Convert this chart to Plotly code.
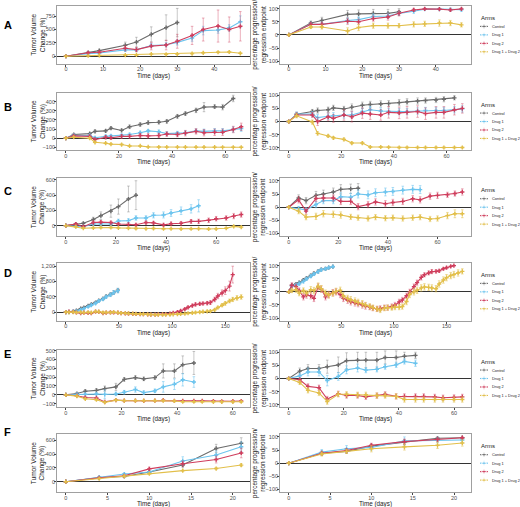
import plotly.graph_objects as go

FIG_W, FIG_H = 520, 507
FONT = "Liberation Sans, Arial, sans-serif"

ARMS = ["Control", "Drug 1", "Drug 2", "Drug 1 + Drug 2"]
LINE_COLORS = ["#6b6b6b", "#6cc4ee", "#cf3d5c", "#e2bf4a"]
ERR_COLORS = ["rgba(120,120,120,0.45)", "rgba(108,196,238,0.6)",
              "rgba(207,61,92,0.45)", "rgba(226,191,74,0.6)"]
ROW_LETTERS = ["A", "B", "C", "D", "E", "F"]
TV_TITLE = "Tumor Volume<br>Change (%)"
PP_TITLE = "percentage progression/<br>regression endpoint"
X_TITLE = "Time (days)"
LEGEND_TITLE = "Arms"

# ---------------- Row A ----------------
A_days = [0, 6, 9, 16, 19, 23, 27, 30, 34, 37, 41, 44, 47]
A_tv_control = [0, 70, 105, 205, 265, 410, 535, 630]
A_tv_control_err = [0, 15, 25, 60, 90, 140, 240, 265]
A_tv_drug1 = [0, 50, 60, 120, 120, 200, 215, 260, 340, 480, 490, 530, 645]
A_tv_drug1_err = [0, 10, 15, 30, 30, 40, 40, 50, 60, 80, 60, 60, 110]
A_tv_drug2 = [0, 65, 75, 150, 125, 190, 210, 280, 390, 500, 565, 500, 560]
A_tv_drug2_err = [0, 15, 20, 50, 40, 70, 90, 130, 170, 215, 300, 235, 275]
A_tv_combo = [0, 10, 15, 20, 25, 40, 35, 40, 50, 65, 75, 80, 55]
A_tv_combo_err = [0, 5, 5, 8, 8, 10, 10, 10, 12, 12, 15, 15, 12]
A_pp_control = [0, 45, 55, 78, 80, 82, 82, 88]
A_pp_control_err = [0, 8, 12, 15, 15, 15, 15, 12]
A_pp_drug1 = [0, 40, 40, 55, 58, 70, 72, 82, 90, 98, 98, 96, 96]
A_pp_drug1_err = [0, 8, 8, 10, 10, 10, 10, 8, 8, 4, 4, 6, 6]
A_pp_drug2 = [0, 40, 40, 52, 50, 62, 68, 82, 95, 99, 98, 95, 99]
A_pp_drug2_err = [0, 8, 8, 12, 10, 10, 12, 10, 6, 3, 3, 5, 3]
A_pp_combo = [0, 30, 30, 15, 28, 35, 35, 35, 40, 42, 45, 45, 38]
A_pp_combo_err = [0, 6, 8, 12, 12, 10, 10, 8, 10, 10, 12, 10, 8]

# ---------------- Row B ----------------
B_days = [0, 3, 9, 11, 15, 17, 21, 24, 28, 31, 35, 38, 42, 45, 49, 52, 56, 59, 63, 66]
B_tv_control = [0, 40, 50, 75, 80, 110, 85, 125, 150, 170, 175, 185, 240, 270, 305, 340, 345, 340, 435]
B_tv_control_err = [0, 10, 10, 15, 15, 15, 15, 20, 20, 20, 20, 20, 20, 20, 25, 50, 20, 30, 35]
B_tv_drug1 = [0, 30, 30, 5, 20, 25, 30, 40, 60, 80, 70, 50, 55, 60, 80, 75, 80, 80, 95, 105]
B_tv_drug1_err = [0, 10, 10, 15, 15, 15, 15, 15, 15, 15, 20, 20, 20, 20, 20, 25, 25, 25, 30, 30]
B_tv_drug2 = [0, 25, 20, -15, 10, 5, 20, 20, 30, 25, 30, 45, 40, 55, 75, 60, 65, 65, 95, 125]
B_tv_drug2_err = [0, 10, 15, 20, 20, 20, 20, 20, 25, 25, 25, 25, 25, 30, 30, 35, 35, 35, 35, 40]
B_tv_combo = [0, 10, 0, -45, -55, -65, -70, -85, -85, -95, -97, -98, -98, -99, -99, -99, -99, -100, -100, -100]
B_tv_combo_err = [0, 5, 8, 8, 8, 8, 8, 6, 6, 4, 3, 3, 2, 2, 2, 2, 2, 2, 2, 2]
B_pp_control = [0, 28, 38, 42, 45, 52, 48, 55, 62, 65, 67, 68, 72, 75, 78, 80, 82, 85, 90]
B_pp_control_err = [0, 8, 8, 10, 10, 10, 10, 12, 12, 12, 12, 12, 12, 12, 12, 10, 10, 10, 8]
B_pp_drug1 = [0, 28, 28, 15, 20, 22, 25, 25, 38, 45, 40, 38, 38, 38, 40, 42, 42, 42, 45, 48]
B_pp_drug1_err = [0, 8, 10, 12, 12, 12, 12, 12, 12, 12, 12, 12, 12, 12, 12, 12, 12, 12, 12, 12]
B_pp_drug2 = [0, 25, 25, 0, 18, 12, 25, 18, 32, 28, 25, 35, 33, 35, 38, 30, 35, 35, 45, 50]
B_pp_drug2_err = [0, 8, 10, 15, 15, 15, 20, 20, 20, 20, 20, 22, 22, 22, 22, 22, 22, 22, 20, 18]
B_pp_combo = [0, 22, -2, -45, -55, -62, -68, -82, -82, -97, -97, -98, -99, -99, -99, -99, -99, -99, -99, -99]
B_pp_combo_err = [0, 8, 8, 6, 5, 5, 5, 4, 4, 3, 2, 2, 2, 2, 2, 2, 2, 2, 2, 2]

# ---------------- Row C ----------------
C_days = [0, 4, 7, 11, 14, 18, 21, 25, 28, 32, 35, 39, 42, 46, 50, 53, 57, 60, 64, 67, 70]
C_tv_control = [0, 20, 30, 80, 130, 190, 250, 350, 400]
C_tv_control_err = [0, 10, 15, 30, 50, 80, 100, 170, 190]
C_tv_drug1 = [0, -10, -15, 20, 20, 20, 60, 65, 100, 100, 135, 140, 165, 195, 220, 260]
C_tv_drug1_err = [0, 10, 10, 20, 20, 20, 25, 25, 30, 30, 35, 40, 45, 50, 55, 80]
C_tv_drug2 = [0, 20, -15, 40, 45, 40, 20, 15, 10, 40, 35, 10, 25, 30, 55, 55, 70, 90, 100, 125, 145]
C_tv_drug2_err = [0, 15, 15, 20, 20, 20, 20, 20, 20, 20, 20, 20, 20, 25, 25, 30, 30, 30, 30, 35, 35]
C_tv_combo = [0, -15, -35, -30, -25, -25, -30, -35, -38, -40, -38, -42, -40, -43, -42, -40, -45, -43, -35, -10, -20]
C_tv_combo_err = [0, 8, 8, 8, 8, 8, 8, 8, 8, 8, 8, 8, 8, 8, 8, 8, 8, 8, 8, 10, 10]
C_pp_control = [0, 35, 25, 45, 50, 58, 68, 70, 72]
C_pp_control_err = [0, 12, 12, 15, 15, 15, 18, 18, 18]
C_pp_drug1 = [0, -5, -10, 10, 25, 25, 40, 38, 50, 47, 55, 58, 60, 65, 68, 67]
C_pp_drug1_err = [0, 8, 8, 12, 12, 12, 15, 15, 15, 15, 15, 15, 15, 15, 15, 15]
C_pp_drug2 = [0, 28, -15, 33, 35, 35, 22, 22, 2, 10, 20, 13, 18, 22, 32, 28, 42, 45, 47, 52, 58]
C_pp_drug2_err = [0, 12, 12, 12, 12, 12, 12, 12, 12, 12, 12, 12, 12, 12, 12, 12, 12, 12, 10, 10, 12]
C_pp_combo = [0, -15, -38, -35, -25, -27, -30, -37, -40, -43, -38, -42, -40, -43, -40, -38, -45, -43, -32, -25, -25]
C_pp_combo_err = [0, 10, 10, 12, 12, 12, 12, 10, 10, 10, 10, 10, 10, 10, 10, 10, 10, 10, 12, 15, 15]

# ---------------- Row D ----------------
D_days = [0, 3, 7, 10, 14, 17, 21, 24, 28, 31, 35, 38, 42, 45, 49, 52, 56, 59, 63, 66,
          70, 73, 77, 80, 84, 87, 91, 94, 98, 101, 105, 108, 112, 115, 119, 122, 126, 129,
          133, 136, 140, 143, 147, 150, 154, 157, 161, 165]
D_tv_control = [0, 5, 15, 40, 90, 120, 160, 200, 250, 300, 350, 410, 460, 510, 570]
D_tv_control_err = [0, 5, 8, 10, 15, 15, 20, 20, 25, 30, 30, 35, 40, 45, 50]
D_tv_drug1 = [0, 0, 10, 20, 60, 90, 140, 180, 230, 290, 340, 400, 450, 510, 560]
D_tv_drug1_err = [0, 5, 8, 10, 15, 15, 20, 25, 25, 30, 35, 40, 45, 50, 60]
D_tv_drug2 = [0, 10, 5, -10, -25, -15, -20, -30, 10, 5, -25, -15, -5, -10, -15, -25, -35, -40,
              -45, -50, -55, -55, -60, -65, -65, -60, -55, -55, -40, -20, 0, 30, 80, 125, 170,
              200, 215, 225, 235, 250, 330, 420, 500, 560, 680, 980]
D_tv_drug2_err = [0, 15, 15, 15, 20, 20, 20, 20, 20, 20, 20, 20, 20, 20, 20, 20, 20, 20, 20, 20,
                  20, 20, 20, 20, 20, 20, 20, 20, 20, 20, 25, 30, 30, 35, 35, 40, 40, 40, 45, 50,
                  60, 70, 80, 100, 130, 220]
D_tv_combo = [0, -5, 0, -10, -5, -15, -5, -15, 15, 10, -15, -10, -10, 0, -15, -25, -30, -35,
              -40, -45, -50, -55, -60, -65, -70, -65, -65, -65, -65, -60, -55, -50, -40, -30,
              -20, -10, 0, 10, 20, 25, 60, 120, 180, 230, 290, 330, 370, 395]
D_tv_combo_err = [0, 10, 10, 10, 15, 15, 15, 15, 15, 15, 15, 15, 15, 15, 15, 15, 15, 15, 15, 15,
                  15, 15, 15, 15, 15, 15, 15, 15, 15, 15, 15, 15, 15, 20, 20, 20, 20, 25, 25, 25,
                  30, 35, 40, 45, 50, 55, 60, 60]
D_pp_control = [0, 25, 30, 35, 45, 52, 62, 70, 78, 85, 88, 92, 96]
D_pp_control_err = [0, 5, 5, 6, 6, 6, 6, 6, 6, 5, 5, 4, 3]
D_pp_drug1 = [0, 22, 27, 31, 40, 50, 60, 68, 77, 84, 88, 92, 96]
D_pp_drug1_err = [0, 5, 5, 6, 6, 6, 6, 6, 6, 5, 5, 4, 3]
D_pp_drug2 = [0, 25, 20, 5, -19, -12, -15, -25, 19, 10, -19, -10, -3, 0, -10, -25, -32, -38,
              -42, -45, -50, -54, -58, -62, -65, -63, -60, -60, -56, -50, -38, -31, -15, 0, 20,
              35, 55, 65, 72, 77, 78, 80, 88, 92, 97, 100]
D_pp_drug2_err = [0, 10, 10, 10, 12, 12, 12, 12, 12, 12, 12, 12, 12, 12, 12, 12, 12, 12, 12, 12,
                  12, 12, 10, 10, 10, 10, 10, 10, 10, 10, 10, 10, 10, 10, 10, 10, 10, 8, 8, 8,
                  6, 6, 5, 4, 3, 2]
D_pp_combo = [0, 5, 8, -5, 5, -5, 8, 5, 22, 12, -5, -12, -5, 2, 6, -15, -25, -30, -35, -40,
              -45, -50, -55, -60, -65, -69, -62, -60, -60, -58, -58, -56, -37, -10, 0, 6, 15,
              19, 17, 15, 12, 30, 45, 54, 62, 66, 72, 78]
D_pp_combo_err = [0, 8, 10, 10, 10, 10, 12, 12, 12, 12, 12, 12, 12, 12, 12, 12, 12, 12, 12, 12,
                  12, 10, 10, 10, 10, 10, 10, 10, 10, 10, 10, 10, 12, 12, 12, 12, 12, 12, 12, 12,
                  12, 12, 12, 12, 12, 12, 12, 10]

# ---------------- Row E ----------------
E_days = [0, 4, 7, 11, 14, 18, 21, 25, 28, 32, 35, 39, 42, 46, 49, 53, 56, 60, 63]
E_tv_control = [0, 15, 40, 50, 70, 90, 175, 195, 180, 195, 270, 270, 340, 360]
E_tv_control_err = [0, 10, 20, 20, 30, 40, 20, 20, 20, 20, 80, 80, 100, 130]
E_tv_drug1 = [0, 5, 5, 10, 5, 10, 30, 60, 25, 45, 90, 120, 170, 145]
E_tv_drug1_err = [0, 10, 10, 10, 50, 20, 20, 30, 20, 20, 60, 60, 70, 60]
E_tv_drug2 = [0, -10, -30, -35, -80, -60, -65, -65, -68, -65, -60, -68, -68, -68, -68, -70, -73, -72, -70]
E_tv_drug2_err = [0, 5, 10, 10, 10, 10, 8, 8, 8, 8, 8, 8, 8, 8, 8, 8, 8, 8, 8]
E_tv_combo = [0, -15, -45, -55, -85, -60, -65, -65, -65, -65, -65, -70, -78, -78, -78, -80, -80, -80, -78]
E_tv_combo_err = [0, 5, 8, 8, 8, 8, 8, 8, 8, 8, 8, 8, 8, 8, 8, 8, 8, 8, 8]
E_pp_control = [0, 28, 38, 38, 45, 52, 68, 70, 70, 70, 80, 80, 85, 88]
E_pp_control_err = [0, 12, 15, 15, 25, 30, 30, 30, 30, 30, 25, 25, 15, 12]
E_pp_drug1 = [0, 10, 25, 25, -8, 8, 33, 40, 32, 35, 45, 52, 65, 58]
E_pp_drug1_err = [0, 10, 15, 15, 20, 15, 15, 15, 10, 10, 10, 10, 10, 12]
E_pp_drug2 = [0, -5, -30, -35, -78, -58, -65, -65, -70, -65, -60, -68, -68, -68, -68, -70, -73, -72, -70]
E_pp_drug2_err = [0, 8, 10, 10, 10, 10, 10, 10, 10, 10, 10, 10, 10, 10, 10, 10, 10, 10, 10]
E_pp_combo = [0, -15, -45, -55, -88, -60, -60, -62, -62, -65, -65, -68, -80, -80, -80, -80, -80, -80, -80]
E_pp_combo_err = [0, 8, 10, 10, 10, 10, 10, 10, 10, 10, 10, 10, 10, 10, 10, 10, 10, 10, 10]

# ---------------- Row F ----------------
F_days = [0, 4, 7, 10, 14, 18, 21]
F_tv_control = [0, 60, 75, 140, 240, 480, 555]
F_tv_control_err = [0, 10, 10, 15, 30, 60, 80]
F_tv_drug1 = [0, 65, 110, 140, 300, 385, 505]
F_tv_drug1_err = [0, 10, 15, 20, 60, 60, 70]
F_tv_drug2 = [0, 55, 85, 185, 260, 320, 415]
F_tv_drug2_err = [0, 10, 15, 25, 40, 50, 70]
F_tv_combo = [0, 45, 80, 115, 160, 190, 240]
F_tv_combo_err = [0, 8, 10, 10, 10, 15, 20]
F_pp_control = [0, 38, 45, 65, 80, 95, 97]
F_pp_control_err = [0, 8, 8, 8, 10, 5, 3]
F_pp_drug1 = [0, 42, 55, 60, 85, 88, 88]
F_pp_drug1_err = [0, 10, 12, 10, 15, 10, 10]
F_pp_drug2 = [0, 38, 48, 68, 82, 90, 97]
F_pp_drug2_err = [0, 8, 8, 8, 10, 8, 3]
F_pp_combo = [0, 35, 45, 55, 62, 68, 77]
F_pp_combo_err = [0, 8, 8, 12, 12, 12, 12]

# axis ticks / ranges
A_xticks = [0, 10, 20, 30, 40, 50]
B_xticks = [0, 20, 40, 60]
C_xticks = [0, 20, 40, 60]
D_xticks = [0, 50, 100, 150]
E_xticks = [0, 20, 40, 60]
F_xticks = [0, 5, 10, 15, 20]
A_tv_ticks = [0, 250, 500, 750]
B_tv_ticks = [-100, 0, 100, 200, 300, 400, 500]
C_tv_ticks = [0, 200, 400, 600]
D_tv_ticks = [0, 400, 800, 1200]
E_tv_ticks = [-100, 0, 100, 200, 300, 400, 500]
F_tv_ticks = [0, 200, 400, 600]
PP_ticks = [-100, -50, 0, 50, 100]

rows = [
    dict(days=A_days, xr=[-2.4, 49.6], xt=A_xticks, tvr=[-140, 940], tvt=A_tv_ticks,
         tv=[(A_tv_control, A_tv_control_err), (A_tv_drug1, A_tv_drug1_err),
             (A_tv_drug2, A_tv_drug2_err), (A_tv_combo, A_tv_combo_err)],
         pp=[(A_pp_control, A_pp_control_err), (A_pp_drug1, A_pp_drug1_err),
             (A_pp_drug2, A_pp_drug2_err), (A_pp_combo, A_pp_combo_err)]),
    dict(days=B_days, xr=[-3.3, 69.3], xt=B_xticks, tvr=[-134, 499], tvt=B_tv_ticks,
         tv=[(B_tv_control, B_tv_control_err), (B_tv_drug1, B_tv_drug1_err),
             (B_tv_drug2, B_tv_drug2_err), (B_tv_combo, B_tv_combo_err)],
         pp=[(B_pp_control, B_pp_control_err), (B_pp_drug1, B_pp_drug1_err),
             (B_pp_drug2, B_pp_drug2_err), (B_pp_combo, B_pp_combo_err)]),
    dict(days=C_days, xr=[-3.5, 73.5], xt=C_xticks, tvr=[-138, 622], tvt=C_tv_ticks,
         tv=[(C_tv_control, C_tv_control_err), (C_tv_drug1, C_tv_drug1_err),
             (C_tv_drug2, C_tv_drug2_err), (C_tv_combo, C_tv_combo_err)],
         pp=[(C_pp_control, C_pp_control_err), (C_pp_drug1, C_pp_drug1_err),
             (C_pp_drug2, C_pp_drug2_err), (C_pp_combo, C_pp_combo_err)]),
    dict(days=D_days, xr=[-8.25, 173.25], xt=D_xticks, tvr=[-226, 1284], tvt=D_tv_ticks,
         tv=[(D_tv_control, D_tv_control_err), (D_tv_drug1, D_tv_drug1_err),
             (D_tv_drug2, D_tv_drug2_err), (D_tv_combo, D_tv_combo_err)],
         pp=[(D_pp_control, D_pp_control_err), (D_pp_drug1, D_pp_drug1_err),
             (D_pp_drug2, D_pp_drug2_err), (D_pp_combo, D_pp_combo_err)]),
    dict(days=E_days, xr=[-3.15, 66.15], xt=E_xticks, tvr=[-142, 511], tvt=E_tv_ticks,
         tv=[(E_tv_control, E_tv_control_err), (E_tv_drug1, E_tv_drug1_err),
             (E_tv_drug2, E_tv_drug2_err), (E_tv_combo, E_tv_combo_err)],
         pp=[(E_pp_control, E_pp_control_err), (E_pp_drug1, E_pp_drug1_err),
             (E_pp_drug2, E_pp_drug2_err), (E_pp_combo, E_pp_combo_err)]),
    dict(days=F_days, xr=[-1.05, 22.05], xt=F_xticks, tvr=[-150, 685], tvt=F_tv_ticks,
         tv=[(F_tv_control, F_tv_control_err), (F_tv_drug1, F_tv_drug1_err),
             (F_tv_drug2, F_tv_drug2_err), (F_tv_combo, F_tv_combo_err)],
         pp=[(F_pp_control, F_pp_control_err), (F_pp_drug1, F_pp_drug1_err),
             (F_pp_drug2, F_pp_drug2_err), (F_pp_combo, F_pp_combo_err)]),
]

# ---------------- layout constants (pixels) ----------------
PANEL_TOPS = [4, 91, 177, 262, 349, 434]
PANEL_H = 58
LEFT_X = (57, 250)
RIGHT_X = (280, 471)
LETTER_Y = [23, 105, 190, 272, 353, 432]
LEG_KEY_X = (480, 488)
LEG_TEXT_X = 490
LEG_TITLE_X = 479
LEG_OFFSETS = [-8.5, 0, 8.5, 17]
LEG_TITLE_OFFSET = -17


def fx(p):
    return p / FIG_W


def fy(p):
    return 1 - p / FIG_H


fig = go.Figure()
layout = {}
annotations = []

for r, row in enumerate(rows):
    top = PANEL_TOPS[r]
    bot = top + PANEL_H
    mid = (top + bot) / 2
    for side, key in enumerate(["tv", "pp"]):
        n = 2 * r + side + 1
        xa = "x" if n == 1 else f"x{n}"
        ya = "y" if n == 1 else f"y{n}"
        x0, x1 = LEFT_X if side == 0 else RIGHT_X
        for k in range(4):
            vals, errs = row[key][k]
            fig.add_trace(go.Scatter(
                x=row["days"][:len(vals)], y=vals, mode="lines+markers",
                line=dict(color=LINE_COLORS[k], width=1.1),
                marker=dict(symbol="cross", size=3.5, color=LINE_COLORS[k]),
                error_y=dict(type="data", array=errs, color=ERR_COLORS[k],
                             thickness=0.9, width=1.3),
                xaxis=xa, yaxis=ya, showlegend=False, hoverinfo="skip"))
        common = dict(showline=True, mirror=True, linecolor="#a0a0a0", linewidth=0.8,
                      ticks="outside", ticklen=2, tickwidth=0.7, tickcolor="#444",
                      tickfont=dict(size=5.5, color="#4d4d4d", family=FONT),
                      showgrid=False, ticklabelstandoff=-2)
        layout["xaxis" if n == 1 else f"xaxis{n}"] = dict(
            domain=[fx(x0), fx(x1)], anchor=ya, range=row["xr"],
            tickvals=row["xt"], zeroline=False, **common)
        if side == 0:
            yr, yt = row["tvr"], row["tvt"]
        else:
            yr, yt = [-110, 110], PP_ticks
        layout["yaxis" if n == 1 else f"yaxis{n}"] = dict(
            domain=[fy(bot), fy(top)], anchor=xa, range=yr, tickvals=yt,
            tickformat=",d", zeroline=True, zerolinecolor="#333", zerolinewidth=1.1,
            **common)
        annotations.append(dict(
            text=X_TITLE, x=fx((x0 + x1) / 2), y=fy(bot + 12), xref="paper", yref="paper",
            showarrow=False, xanchor="center", yanchor="middle",
            font=dict(size=6.3, color="#222", family=FONT)))
    annotations.append(dict(
        text=TV_TITLE, x=fx(38), y=fy(mid), xref="paper", yref="paper", textangle=-90,
        showarrow=False, xanchor="center", yanchor="middle",
        font=dict(size=6.5, color="#222", family=FONT)))
    annotations.append(dict(
        text=PP_TITLE, x=fx(259), y=fy(mid), xref="paper", yref="paper", textangle=-90,
        showarrow=False, xanchor="center", yanchor="middle",
        font=dict(size=6.5, color="#222", family=FONT)))
    annotations.append(dict(
        text="<b>" + ROW_LETTERS[r] + "</b>", x=fx(2), y=fy(LETTER_Y[r]), xref="paper",
        yref="paper", showarrow=False, xanchor="left", yanchor="middle",
        font=dict(size=11, color="#000", family=FONT)))
    # legend
    annotations.append(dict(
        text=LEGEND_TITLE, x=fx(LEG_TITLE_X), y=fy(mid + LEG_TITLE_OFFSET), xref="paper",
        yref="paper", showarrow=False, xanchor="left", yanchor="middle",
        font=dict(size=6, color="#222", family=FONT)))
    for k in range(4):
        yk = mid + LEG_OFFSETS[k]
        fig.add_trace(go.Scatter(
            x=[LEG_KEY_X[0], (LEG_KEY_X[0] + LEG_KEY_X[1]) / 2, LEG_KEY_X[1]],
            y=[yk, yk, yk], mode="lines+markers",
            line=dict(color=LINE_COLORS[k], width=1.1),
            marker=dict(symbol="cross", size=[0, 4, 0], color=LINE_COLORS[k]),
            xaxis="x13", yaxis="y13", showlegend=False, hoverinfo="skip"))
        annotations.append(dict(
            text=ARMS[k], x=fx(LEG_TEXT_X), y=fy(yk), xref="paper", yref="paper",
            showarrow=False, xanchor="left", yanchor="middle",
            font=dict(size=3.9, color="#222", family=FONT)))

layout["xaxis13"] = dict(domain=[0, 1], range=[0, FIG_W], visible=False, anchor="y13")
layout["yaxis13"] = dict(domain=[0, 1], range=[FIG_H, 0], visible=False, anchor="x13")

fig.update_layout(
    width=FIG_W, height=FIG_H, margin=dict(l=0, r=0, t=0, b=0),
    paper_bgcolor="white", plot_bgcolor="rgba(0,0,0,0)", showlegend=False,
    font=dict(family=FONT), annotations=annotations, **layout)

fig.write_html("out.html")
